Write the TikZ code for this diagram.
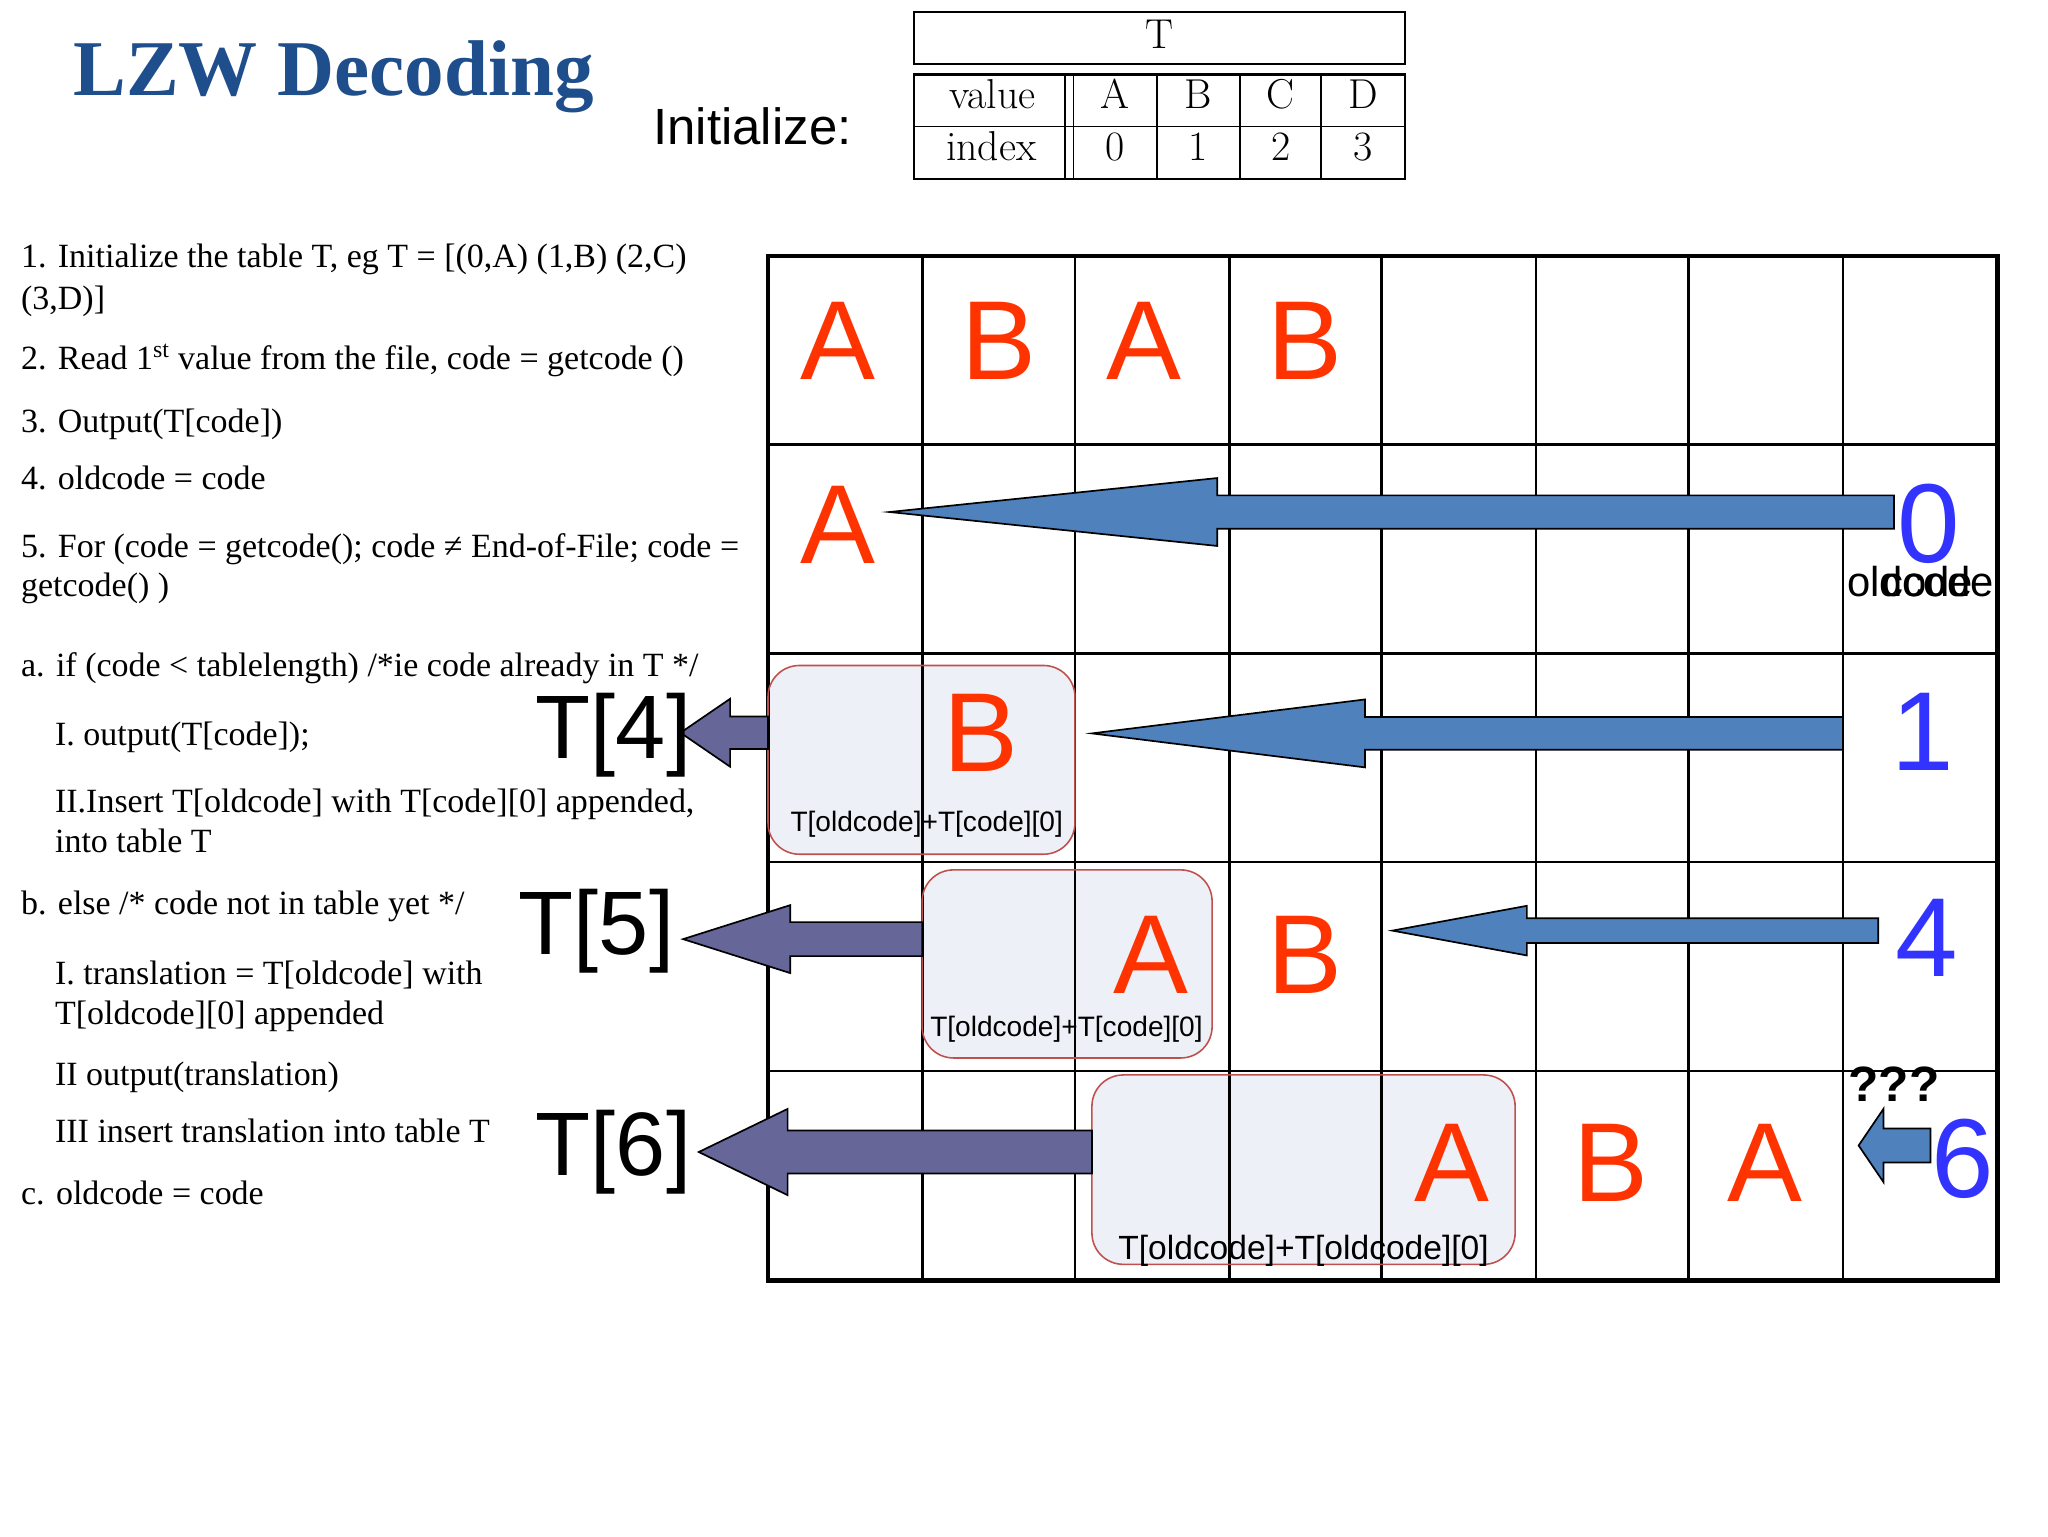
\documentclass[tikz,border=0pt]{standalone}
\usepackage{fontspec}
\setsansfont{Liberation Sans}
\newfontfamily\timesfont{Liberation Serif}
\usetikzlibrary{calc}
\definecolor{lzred}{HTML}{FF3300}
\definecolor{lzblue}{HTML}{3333FF}
\definecolor{lztitle}{HTML}{1F4E8C}
\definecolor{arrblue}{HTML}{4F81BD}
\definecolor{arrpurple}{HTML}{666699}
\definecolor{boxfill}{HTML}{EDF1F7}
\definecolor{boxline}{HTML}{C0504D}
\tikzset{
  body/.style={anchor=base west, inner sep=0pt, font=\timesfont\fontsize{26}{31}\selectfont},
  bigletter/.style={inner sep=0pt, text=lzred, font=\sffamily\fontsize{86}{86}\selectfont},
  bignum/.style={inner sep=0pt, text=lzblue, font=\sffamily\fontsize{86}{86}\selectfont},
  tlabel/.style={anchor=base west, inner sep=0pt, font=\sffamily\fontsize{69}{69}\selectfont},
  formula/.style={inner sep=0pt, font=\sffamily\fontsize{21.5}{22}\selectfont},
  tabtext/.style={anchor=base, inner sep=0pt, font=\fontsize{32}{32}\selectfont},
  tabline/.style={line width=1.6pt},
  gridline/.style={line width=2.2pt},
  gridborder/.style={line width=3.8pt, line join=miter},
  phrasefill/.style={rounded corners=24pt, fill=boxfill},
  phraseline/.style={rounded corners=24pt, draw=boxline, line width=1.2pt},
  blockarrow/.style={draw=black, line width=1.3pt, line join=miter}
}
% #1 tip coordinate, #2 tail coordinate, #3 head length, #4 head half-height, #5 shaft half-height, #6 colour
\newcommand\lzwarrow[6]{%
  \filldraw[blockarrow, fill=#6] (#1) -- ($(#1)+(#3,-#4)$) -- ($(#1)+(#3,-#5)$) -- ($(#2)+(0,-#5)$)
    -- ($(#2)+(0,#5)$) -- ($(#1)+(#3,#5)$) -- ($(#1)+(#3,#4)$) -- cycle;}
\begin{document}
\begin{tikzpicture}[x=1pt,y=-1pt]
\useasboundingbox (0,0) rectangle (1568,1176);
\fill[white] (0,0) rectangle (1568,1176);

% title and heading
\node[anchor=base west, inner sep=0pt, text=lztitle, font=\timesfont\bfseries\fontsize{60.5}{60.5}\selectfont] (title) at (56,73) {LZW Decoding};
\node[anchor=base west, inner sep=0pt, font=\sffamily\fontsize{39}{39}\selectfont] (init) at (500,111) {Initialize:};

% initial table T
\draw[tabline] (700,9) rectangle (1076,49);
\draw[tabline] (700,57) rectangle (1076,137);
\draw[line width=1.2pt] (700,97) -- (1076,97);
\foreach \x in {815.5,822,886,949.5,1011.5} \draw[line width=1.2pt] (\x,57) -- (\x,137);
\node[tabtext] (tT) at (888,37) {T};
\node[tabtext] (tval) at (760,83) {value};
\node[tabtext] (tidx) at (759,123) {index};
\node[tabtext] (tA) at (854,83) {A};
\node[tabtext] (tB) at (917,83) {B};
\node[tabtext] (tC) at (980.5,83) {C};
\node[tabtext] (tD) at (1043.5,83) {D};
\node[tabtext] (t0) at (854,123) {0};
\node[tabtext] (t1) at (917,123) {1};
\node[tabtext] (t2) at (980.5,123) {2};
\node[tabtext] (t3) at (1043.5,123) {3};

% algorithm text
\node[body] (l1) at (16,205) {1. Initialize the table T, eg T = [(0,A) (1,B) (2,C)};
\node[body] (l1b) at (16,237) {(3,D)]};
\node[body] (l2) at (16,283) {2. Read 1\textsuperscript{st} value from the file, code = getcode ()};
\node[body] (l3) at (16,331) {3. Output(T[code])};
\node[body] (l4) at (16,375) {4. oldcode = code};
\node[body] (l5) at (16,427) {5. For (code = getcode(); code ≠ End-of-File; code =};
\node[body] (l5b) at (16,457) {getcode() )};
\node[body] (la) at (16,518) {a. if (code < tablelength) /*ie code already in T */};
\node[body] (la1) at (42,571) {I. output(T[code]);};
\node[body] (la2) at (42,622) {II.Insert T[oldcode] with T[code][0] appended,};
\node[body] (la2b) at (42,653) {into table T};
\node[body] (lb) at (16,700) {b. else /* code not in table yet */};
\node[body] (lb1) at (42,753.5) {I. translation = T[oldcode] with};
\node[body] (lb1b) at (42,784.5) {T[oldcode][0] appended};
\node[body] (lb2) at (42,831) {II output(translation)};
\node[body] (lb3) at (42,875) {III insert translation into table T};
\node[body] (lc) at (16,922.5) {c. oldcode = code};

% phrase boxes (fill)
\fill[phrasefill] (588,509.5) rectangle (823,654);
\fill[phrasefill] (706,666) rectangle (928,810);
\fill[phrasefill] (836,823) rectangle (1160,968);

% grid
\foreach \x in {706,823,941,1058,1176,1293,1411} \draw[gridline] (\x,196) -- (\x,980);
\foreach \y in {340,500,660,820} \draw[gridline] (588,\y) -- (1529,\y);
\draw[gridborder] (588,196) rectangle (1529,980);

% phrase boxes (outline)
\draw[phraseline] (588,509.5) rectangle (823,654);
\draw[phraseline] (706,666) rectangle (928,810);
\draw[phraseline] (836,823) rectangle (1160,968);

% arrow end points
\coordinate (b1tip) at (681,392);   \coordinate (b1tail) at (1450,392);
\coordinate (b2tip) at (836,561.5); \coordinate (b2tail) at (1411,561.5);
\coordinate (b3tip) at (1066,712.5);\coordinate (b3tail) at (1438,712.5);
\coordinate (b4tip) at (1423,877);  \coordinate (b4tail) at (1478,877);
\coordinate (p4tip) at (521,561);   \coordinate (p4tail) at (588,561);
\coordinate (p5tip) at (523,719);   \coordinate (p5tail) at (706,719);
\coordinate (p6tip) at (535,882);   \coordinate (p6tail) at (836,882);

\lzwarrow{b1tip}{b1tail}{251}{26}{12.75}{arrblue}
\lzwarrow{b2tip}{b2tail}{209}{26}{12.5}{arrblue}
\lzwarrow{b3tip}{b3tail}{103}{19}{9.5}{arrblue}
\lzwarrow{b4tip}{b4tail}{19}{28}{13}{arrblue}
\lzwarrow{p4tip}{p4tail}{38}{26}{12.5}{arrpurple}
\lzwarrow{p5tip}{p5tail}{82}{26}{13}{arrpurple}
\lzwarrow{p6tip}{p6tail}{68}{33}{16.5}{arrpurple}

% output letters
\node[bigletter] (r1a) at (641.5,261) {A};
\node[bigletter] (r1b) at (765,261) {B};
\node[bigletter] (r1c) at (876,261) {A};
\node[bigletter] (r1d) at (999,261) {B};
\node[bigletter] (r2a) at (641.5,402) {A};
\node[bigletter] (r3b) at (751,561) {B};
\node[bigletter] (r4a) at (881,731) {A};
\node[bigletter] (r4b) at (999,731) {B};
\node[bigletter] (r5a) at (1112,890) {A};
\node[bigletter] (r5b) at (1233,890) {B};
\node[bigletter] (r5c) at (1351,890) {A};

% codes
\node[bignum] (n0) at (1477,401) {0};
\node[bignum] (n1) at (1472,560) {1};
\node[bignum] (n4) at (1475,718) {4};
\node[bignum] (n6) at (1503,887) {6};
\node[anchor=base west, inner sep=0pt, font=\sffamily\fontsize{32}{32}\selectfont] (oldc) at (1414,456.5) {oldcode};
\node[anchor=base west, inner sep=0pt, font=\sffamily\fontsize{32}{32}\selectfont] (codel) at (1441,456.5) {code};
\node[inner sep=0pt, font=\sffamily\bfseries\fontsize{38}{38}\selectfont] (qqq) at (1450,830) {???};

% phrase formulas
\node[formula] (f1) at (709.5,631) {T[oldcode]+T[code][0]};
\node[formula] (f2) at (816.5,788) {T[oldcode]+T[code][0]};
\node[formula, font=\sffamily\fontsize{25.7}{26}\selectfont] (f3) at (998,958) {T[oldcode]+T[oldcode][0]};

% table entry labels
\node[tlabel] (T4) at (410,580.5) {T[4]};
\node[tlabel] (T5) at (397,731) {T[5]};
\node[tlabel] (T6) at (410,900) {T[6]};
\end{tikzpicture}
\end{document}
